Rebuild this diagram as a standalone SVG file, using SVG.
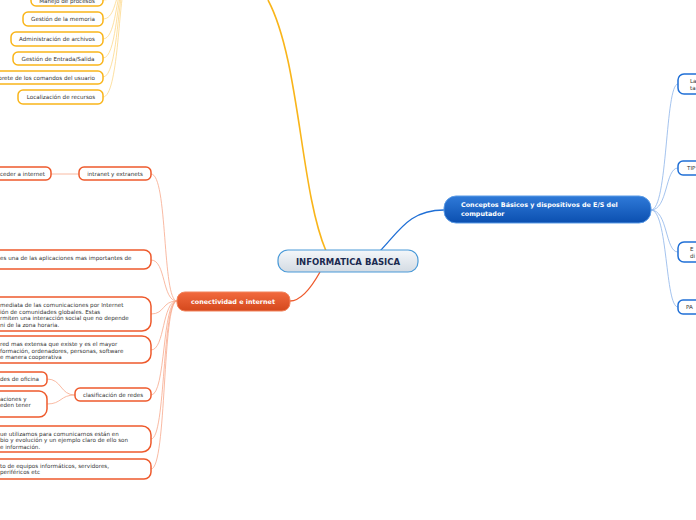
<svg xmlns="http://www.w3.org/2000/svg" width="696" height="520" viewBox="0 0 696 520">
<defs>
<linearGradient id="gc" x1="0" y1="0" x2="0" y2="1"><stop offset="0" stop-color="#f4f7fa"/><stop offset="1" stop-color="#d3dbe3"/></linearGradient>
<linearGradient id="gb" x1="0" y1="0" x2="0" y2="1"><stop offset="0" stop-color="#2f7ad8"/><stop offset="1" stop-color="#0b4fb0"/></linearGradient>
<linearGradient id="go" x1="0" y1="0" x2="0" y2="1"><stop offset="0" stop-color="#f26a3e"/><stop offset="1" stop-color="#d4481c"/></linearGradient>
</defs>
<style>
text{font-family:Verdana,"DejaVu Sans",sans-serif;font-size:5.6px;fill:#333}
.y rect{fill:#fff;stroke:#f9b51a;stroke-width:1.5}
.o rect{fill:#fff;stroke:#ee5a2c;stroke-width:1.5}
.b rect{fill:#fff;stroke:#1f6fd6;stroke-width:1.5}
.cy{fill:none;stroke:#fcd88a;stroke-width:0.8}
.co{fill:none;stroke:#f7a88c;stroke-width:0.8}
.cb{fill:none;stroke:#8db4ea;stroke-width:0.8}
</style>
<rect width="696" height="520" fill="#fff"/>
<g id="connectors">
<path d="M326,251 C300,190 300,60 268,0" fill="none" stroke="#f9b51a" stroke-width="1.6"/>
<path d="M380,251 C400,230 410,210 444,210" fill="none" stroke="#1f6fd6" stroke-width="1.3"/>
<path d="M320,272 C310,290 300,301 290,301" fill="none" stroke="#ee5a2c" stroke-width="1.3"/>
<path class="cy" d="M103,0 C112,0 114,-5 120,-10"/>
<path class="cy" d="M103,19 C114,19 115,0 120,-10"/>
<path class="cy" d="M103,39 C115,39 116,0 121,-10"/>
<path class="cy" d="M103,58 C116,58 117,0 122,-10"/>
<path class="cy" d="M103,77 C117,77 118,0 123,-10"/>
<path class="cy" d="M103,97 C118,97 119,0 124,-10"/>
<path class="cb" d="M651,210 C668,210 665,84 678,84"/>
<path class="cb" d="M651,210 C668,210 665,168 678,168"/>
<path class="cb" d="M651,210 C668,210 665,252 678,252"/>
<path class="cb" d="M651,210 C668,210 665,307 678,307"/>
<path class="co" d="M177,301 C162,301 168,174 151,174"/>
<path class="co" d="M177,301 C162,301 166,260 151,260"/>
<path class="co" d="M177,301 C162,301 165,314 151,314"/>
<path class="co" d="M177,301 C162,301 165,350 151,350"/>
<path class="co" d="M177,301 C162,301 166,395 151,395"/>
<path class="co" d="M177,301 C162,301 166,439 151,439"/>
<path class="co" d="M177,301 C162,301 167,469 151,469"/>
<path class="co" d="M79,174 L51,174"/>
<path class="co" d="M75,395 C60,395 62,379 47,379"/>
<path class="co" d="M75,395 C60,395 62,404 47,404"/>
</g>
<g id="center"><rect x="278" y="250" width="140" height="22" rx="10" fill="url(#gc)" stroke="#4a9ad8" stroke-width="1.2"/><text x="348" y="265" text-anchor="middle" style="font-size:8.5px;font-weight:bold;fill:#1a2a50">INFORMATICA BASICA</text></g>
<g id="blue"><rect x="444" y="196" width="207" height="27" rx="12" fill="url(#gb)" stroke="#5b9be6"/><text x="461" y="207" style="fill:#fff;font-weight:bold;font-size:6.4px">Conceptos Básicos y dispositivos de E/S del</text><text x="461" y="216" style="fill:#fff;font-weight:bold;font-size:6.4px">computador</text></g>
<g id="orange"><rect x="177" y="292" width="113" height="19" rx="8" fill="url(#go)" stroke="#f2835c"/><text x="233" y="304" text-anchor="middle" style="fill:#fff;font-weight:bold;font-size:6.4px">conectividad e internet</text></g>
<g class="b" id="b1"><rect x="678" y="74" width="40" height="20" rx="6"/><text x="690" y="83">La</text><text x="690" y="90">ta</text></g>
<g class="b" id="b2"><rect x="678" y="161" width="40" height="14" rx="5"/><text x="687" y="170">TIP</text></g>
<g class="b" id="b3"><rect x="678" y="242" width="40" height="20" rx="6"/><text x="690" y="251">E</text><text x="690" y="258">di</text></g>
<g class="b" id="b4"><rect x="678" y="300" width="40" height="14" rx="5"/><text x="686" y="309">PA</text></g>
<g class="y" id="y1"><rect x="31" y="-6" width="72" height="12" rx="5"/><text x="67" y="3" text-anchor="middle">Manejo de procesos</text></g>
<g class="y" id="y2"><rect x="23" y="12" width="80" height="14" rx="5"/><text x="63" y="21" text-anchor="middle">Gestión de la memoria</text></g>
<g class="y" id="y3"><rect x="11" y="32" width="92" height="14" rx="5"/><text x="57" y="41" text-anchor="middle">Administración de archivos</text></g>
<g class="y" id="y4"><rect x="13" y="52" width="90" height="13" rx="5"/><text x="58" y="60.5" text-anchor="middle">Gestión de Entrada/Salida</text></g>
<g class="y" id="y5"><rect x="-8" y="71" width="111" height="13" rx="5"/><text x="95" y="79.5" text-anchor="end">prete de los comandos del usuario</text></g>
<g class="y" id="y6"><rect x="18" y="90" width="85" height="14" rx="5"/><text x="61" y="99" text-anchor="middle">Localización de recursos</text></g>
<g class="o" id="o1"><rect x="79" y="167" width="72" height="13" rx="5"/><text x="115" y="175.5" text-anchor="middle">intranet y extranets</text></g>
<g class="o" id="o1a"><rect x="-8" y="167" width="59" height="13" rx="5"/><text x="0" y="175.5">ceder a internet</text></g>
<g class="o" id="o2"><rect x="-8" y="250" width="159" height="19" rx="7"/><text x="0" y="260">es una de las aplicaciones mas importantes de</text></g>
<g class="o" id="o3"><rect x="-8" y="297" width="159" height="34" rx="9"/><text x="0" y="307">mediata de las comunicaciones por Internet</text><text x="0" y="313.5">ión de comunidades globales. Estas</text><text x="0" y="320">rmiten una interacción social que no depende</text><text x="0" y="326.5">ni de la zona horaria.</text></g>
<g class="o" id="o4"><rect x="-8" y="336" width="159" height="27" rx="9"/><text x="0" y="346">red mas extensa que existe y es el mayor</text><text x="0" y="352.5">formación, ordenadores, personas, software</text><text x="0" y="359">e manera cooperativa</text></g>
<g class="o" id="o5"><rect x="75" y="388" width="76" height="13" rx="5"/><text x="113" y="396.5" text-anchor="middle">clasificación de redes</text></g>
<g class="o" id="o5a"><rect x="-8" y="372" width="55" height="14" rx="5"/><text x="0" y="381">des de oficina</text></g>
<g class="o" id="o5b"><rect x="-8" y="391" width="55" height="26" rx="8"/><text x="0" y="400.5">aciones y</text><text x="0" y="407">eden tener</text></g>
<g class="o" id="o6"><rect x="-8" y="426" width="159" height="26" rx="9"/><text x="0" y="435.5">ue utilizamos para comunicarnos están en</text><text x="0" y="442">bio y evolución y un ejemplo claro de ello son</text><text x="0" y="448.5">e información.</text></g>
<g class="o" id="o7"><rect x="-8" y="459" width="159" height="20" rx="7"/><text x="0" y="467.5">to de equipos informáticos, servidores,</text><text x="0" y="474">periféricos etc</text></g>
</svg>
